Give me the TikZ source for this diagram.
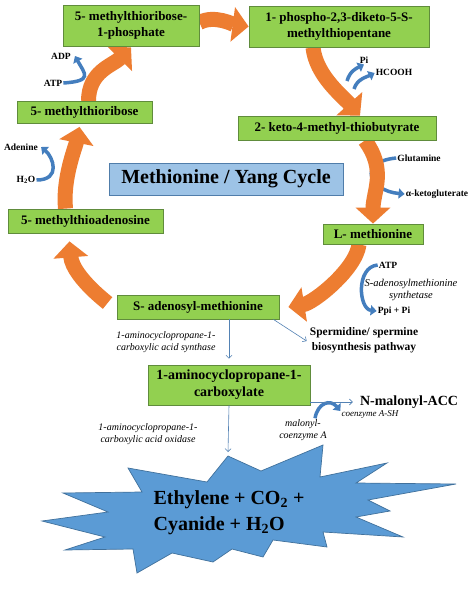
\documentclass[tikz,border=0pt]{standalone}
\usepackage{fontspec}
\setmainfont{Liberation Serif}
\usepackage{tikz}
\usetikzlibrary{positioning,arrows.meta,calc,backgrounds}
\usepackage{xcolor}
\definecolor{leafgreen}{RGB}{146,208,80}
\definecolor{leafedge}{RGB}{96,140,60}
\definecolor{cycorange}{RGB}{237,125,49}
\definecolor{skyfill}{RGB}{157,195,230}
\definecolor{skyedge}{RGB}{80,125,170}
\definecolor{starblue}{RGB}{91,155,213}
\definecolor{staredge}{RGB}{65,113,156}
\definecolor{arcblue}{RGB}{68,126,190}
\definecolor{lineblue}{RGB}{84,130,180}

\begin{document}
\begin{tikzpicture}[x=1pt,y=-1pt,
  box/.style={rectangle,draw=leafedge,fill=leafgreen,line width=0.8pt,align=center,
    inner sep=1pt,font=\bfseries\fontsize{13}{15.5}\selectfont},
  tag/.style={inner sep=1pt,font=\bfseries\fontsize{9.5}{11}\selectfont},
  note/.style={inner sep=1pt,align=center,font=\itshape\fontsize{10}{12}\selectfont},
  cycarrow/.style={draw=cycorange,line width=15pt,-{Triangle[length=16pt,width=34pt]}},
  arc/.style={draw=arcblue,line width=3.5pt,-{Triangle[length=6pt,width=10pt]}},
  link/.style={draw=lineblue,line width=0.6pt,-{Straight Barb[length=3pt,width=6pt]}}]
\useasboundingbox (0,0) rectangle (474,603);

% cycle members
\node[box,minimum width=136pt,minimum height=41pt] (mtrp) at (131,25.5) {5- methylthioribose-\\1-phosphate};
\node[box,minimum width=180pt,minimum height=41pt] (phos) at (339,26.5) {1- phospho-2,3-diketo-5-S-\\methylthiopentane};
\node[box,minimum width=198pt,minimum height=24pt] (keto) at (337,128) {2- keto-4-methyl-thiobutyrate};
\node[box,minimum width=135pt,minimum height=22pt] (mtr) at (84.5,112.5) {5- methylthioribose};
\node[box,minimum width=155pt,minimum height=24pt] (mta) at (85.5,221) {5- methylthioadenosine};
\node[box,minimum width=100pt,minimum height=20pt] (lmet) at (373,234) {L- methionine};
\node[box,minimum width=162pt,minimum height=24pt] (sam) at (198,307) {S- adenosyl-methionine};
\node[box,minimum width=162pt,minimum height=40pt,font=\bfseries\fontsize{14}{17}\selectfont] (acc) at (229,385) {1-aminocyclopropane-1-\\carboxylate};
\node[rectangle,draw=skyedge,fill=skyfill,line width=0.8pt,minimum width=234pt,minimum height=32pt,
  font=\bfseries\fontsize{20}{24}\selectfont] (title) at (226,179) {Methionine / Yang Cycle};

% side products
\node[tag] (adp) at (61,56) {ADP};
\node[tag] (atpa) at (53,83) {ATP};
\node[tag] (pi) at (364,60) {Pi};
\node[tag] (hcooh) at (394,72) {HCOOH};
\node[tag] (adenine) at (21,147) {Adenine};
\node[tag] (water) at (26,180) {H\textsubscript{2}O};
\node[tag] (gln) at (419,158) {Glutamine};
\node[tag] (akg) at (437,194) {α-ketogluterate};
\node[tag] (atpb) at (388,265) {ATP};
\node[tag] (ppi) at (394,311) {Ppi + Pi};
\node[note,font=\itshape\fontsize{10.5}{12}\selectfont] (samsyn) at (411,290) {S-adenosylmethionine\\synthetase};
\node[note] (accsyn) at (166,342) {1-aminocyclopropane-1-\\carboxylic acid synthase};
\node[inner sep=1pt,align=center,font=\bfseries\fontsize{11.5}{15}\selectfont] (sperm) at (364,340) {Spermidine/ spermine\\biosynthesis pathway};
\node[inner sep=1pt,font=\bfseries\fontsize{14}{17}\selectfont] (nmal) at (409,402) {N-malonyl-ACC};
\node[note,font=\itshape\fontsize{9}{11}\selectfont] (coa) at (370,414) {coenzyme A-SH};
\node[note] (mal) at (303,430) {malonyl-\\coenzyme A};
\node[note] (accox) at (148,434) {1-aminocyclopropane-1-\\carboxylic acid oxidase};
\node[inner sep=1pt,align=left,font=\bfseries\fontsize{20}{26}\selectfont] (prod) at (229,513) {Ethylene + CO\textsubscript{2} +\\Cyanide + H\textsubscript{2}O};
\coordinate (startop) at (228,456);
\coordinate (pifoot) at (347,81);
\coordinate (hcfoot) at (354,89);

\begin{scope}[on background layer]
\fill[white] (0,0) rectangle (474,603);
% burst
\filldraw[fill=starblue,draw=staredge,line width=0.7pt,line join=miter]
  (startop) -- (261,471) -- (323,445) -- (320,477) -- (387,463) -- (356,483) -- (456,484)
  -- (368,500) -- (390,511) -- (356,517) -- (403,537) -- (323,532) -- (327,547) -- (273,540)
  -- (263,557) -- (232,549) -- (213,562) -- (172,553) -- (137,573) -- (133,549) -- (65,550)
  -- (105,537) -- (42,521) -- (108,512) -- (63,493) -- (142,492) -- (128,468) -- (207,482) -- cycle;
% co-substrates
\draw[arc] (atpa.east) .. controls +(30,-2) and +(10,18) .. ([xshift=3pt]adp.east);
\draw[arc] (pifoot) .. controls +(3,-10) and +(-8,4) .. (pi.south);
\draw[arc] (hcfoot) .. controls +(3,-10) and +(-8,4) .. ([yshift=-1pt]hcooh.west);
\draw[arc] (water.east) .. controls +(25,0) and +(12,10) .. ([xshift=2pt]adenine.east);
\draw[arc] (gln.west) .. controls +(-40,4) and +(-35,-3) .. (akg.west);
\draw[arc] (atpb.west) .. controls +(-22,2) and +(-18,-2) .. (ppi.west);
\draw[arc] ([xshift=12pt]mal.north) .. controls +(3,-16) and +(-10,-12) .. ([yshift=3pt]coa.west);
% cycle
\draw[cycarrow] ([xshift=4pt]mtr.north) .. controls +(0,-30) and +(-18,18) .. ([yshift=-1pt]mtrp.south);
\draw[cycarrow] ([yshift=3pt]mtrp.east) .. controls +(15,-8) and +(-15,-2) .. (phos.west);
\draw[cycarrow] ([xshift=-26pt]phos.south) .. controls +(3,28) and +(-18,-20) .. ([xshift=23pt]keto.north);
\draw[cycarrow] ([xshift=28pt]keto.south) .. controls +(22,30) and +(0,-32) .. (lmet.north);
\draw[cycarrow] ([xshift=-14pt]lmet.south) .. controls +(-3,25) and +(25,-4) .. ([xshift=9pt]sam.east);
\draw[cycarrow] ([xshift=-9pt,yshift=4pt]sam.west) .. controls +(-25,-20) and +(2,25) .. ([xshift=-16pt,yshift=-8pt]mta.south);
\draw[cycarrow] ([xshift=-20pt]mta.north) .. controls +(-3,-30) and +(-4,20) .. ([xshift=-5pt,yshift=-3pt]mtr.south);
\end{scope}

% ethylene branch
\draw[link] (sam.south -| acc.north) -- ([yshift=6pt]acc.north);
\draw[link] ([xshift=-6pt]sam.south east) -- ([xshift=-2pt,yshift=-1pt]sperm.west);
\draw[link] (acc.south east |- nmal.west) -- ([xshift=-6pt]nmal.west);
\draw[link] (acc.south) -- ([yshift=4pt]startop);
\end{tikzpicture}
\end{document}
